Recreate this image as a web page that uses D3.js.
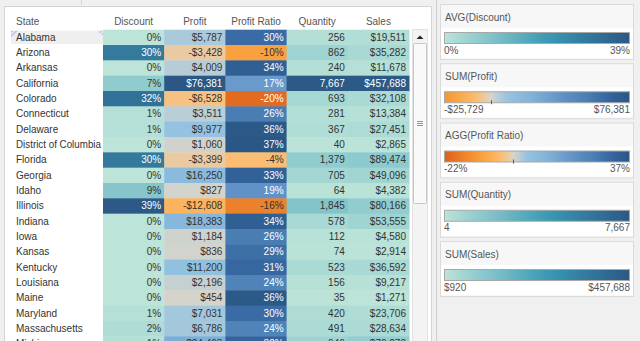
<!DOCTYPE html>
<html><head><meta charset="utf-8">
<script src="https://cdn.jsdelivr.net/npm/d3@7"></script>
<style>
html,body{margin:0;padding:0;background:#f0f0f0;overflow:hidden;}
svg{display:block;font-family:"Liberation Sans",Arial,sans-serif;}
</style></head>
<body>
<svg id="c" width="640" height="341"></svg>
<script>
// ---- data ----
const states = ["Alabama","Arizona","Arkansas","California","Colorado","Connecticut","Delaware","District of Columbia","Florida","Georgia","Idaho","Illinois","Indiana","Iowa","Kansas","Kentucky","Louisiana","Maine","Maryland","Massachusetts","Michigan"];
const discount = [0,0.30,0,0.07,0.32,0.01,0.01,0,0.30,0,0.09,0.39,0,0,0,0,0,0,0.01,0.02,0.01];
const profit = [5787,-3428,4009,76381,-6528,3511,9977,1060,-3399,16250,827,-12608,18383,1184,836,11200,2196,454,7031,6786,24463];
const profitRatio = [0.30,-0.10,0.34,0.17,-0.20,0.26,0.36,0.37,-0.04,0.33,0.19,-0.16,0.34,0.26,0.29,0.31,0.24,0.36,0.30,0.24,0.32];
const quantity = [256,862,240,7667,693,281,367,40,1379,705,64,1845,578,112,74,523,156,35,420,491,946];
const sales = [19511,35282,11678,457688,32108,13384,27451,2865,89474,49096,4382,80166,53555,4580,2914,36592,9217,1271,23706,28634,76270];
const columns = ["Discount","Profit","Profit Ratio","Quantity","Sales"];
const discountRange = [0, 0.39];
const profitRange = [-25729, 76381];
const ratioRange = [-0.22, 0.37];
const quantityRange = [4, 7667];
const salesRange = [920, 457688];
const legendTitles = ["AVG(Discount)","SUM(Profit)","AGG(Profit Ratio)","SUM(Quantity)","SUM(Sales)"];

// ---- colour schemes ----
const blueTeal = ["#bce4d8","#aedcd5","#a1d5d2","#95cecf","#89c8cc","#7ec1ca","#72bac6","#66b2c2","#59acbe","#4ba5ba","#419eb6","#3b96b2","#358ead","#3586a7","#347ea1","#32779b","#316f96","#2f6790","#2d608a","#2c5985"];
const seqInterp = d3.interpolateRgbBasis(blueTeal);
const divT = [-1,-0.6,-0.3,-0.12,-0.05,0,0.05,0.12,0.3,0.5,0.7,0.85,1];
const divC = ["#9e3d22","#dd5f1a","#f89c38","#fdbb6a","#ecc99d","#d9d5c9","#b7cdd8","#95c3e0","#80b1d8","#6394c8","#4a7db2","#3565a0","#2a5783"];
const divInterp = d3.scaleLinear().domain(divT).range(divC).interpolate(d3.interpolateRgb).clamp(true);

function seqScale(ext){ const s=d3.scaleLinear().domain(ext).range([0,1]).clamp(true); return v=>seqInterp(s(v)); }
function divScale(ext){ const m=d3.max(ext.map(Math.abs)); const s=d3.scaleLinear().domain([-m,m]).range([-1,1]).clamp(true); return v=>divInterp(s(v)); }

const colorDiscount = seqScale(discountRange);
const colorProfit = divScale(profitRange);
const colorRatio = divScale(ratioRange);
const colorQty = seqScale(quantityRange);
const colorSales = seqScale(salesRange);

const fmtPct = v => (v<0?"-":"") + Math.round(Math.abs(v)*100) + "%";
const fmtMoney = v => (v<0?"-":"") + "$" + d3.format(",")(Math.round(Math.abs(v)));
const fmtInt = v => d3.format(",")(v);

const colDefs = [
  {vals:discount, color:colorDiscount, fmt:fmtPct},
  {vals:profit, color:colorProfit, fmt:fmtMoney},
  {vals:profitRatio, color:colorRatio, fmt:fmtPct},
  {vals:quantity, color:colorQty, fmt:fmtInt},
  {vals:sales, color:colorSales, fmt:fmtMoney}
];
const legendDefs = [
  {range:discountRange, color:colorDiscount, fmt:fmtPct},
  {range:profitRange, color:colorProfit, fmt:fmtMoney, zero:true},
  {range:ratioRange, color:colorRatio, fmt:fmtPct, zero:true},
  {range:quantityRange, color:colorQty, fmt:fmtInt},
  {range:salesRange, color:colorSales, fmt:fmtMoney}
];

function lum(c){ const r=d3.rgb(c); const f=x=>{x/=255; return x<=0.03928?x/12.92:Math.pow((x+0.055)/1.055,2.4);}; return 0.2126*f(r.r)+0.7152*f(r.g)+0.0722*f(r.b); }

const svg = d3.select("#c");
const defs = svg.append("defs");
const pat = defs.append("pattern").attr("id","hatch").attr("width",3).attr("height",3)
  .attr("patternUnits","userSpaceOnUse").attr("patternTransform","rotate(45)");
pat.append("rect").attr("width",3).attr("height",3).attr("fill","#e4e9f2");
pat.append("line").attr("x1",0).attr("y1",0).attr("x2",0).attr("y2",3).attr("stroke","#7d9ccc").attr("stroke-width",1.2);

// background
svg.append("rect").attr("width",640).attr("height",341).attr("fill","#f0f0f0");
svg.append("line").attr("x1",81.5).attr("x2",81.5).attr("y1",0).attr("y2",5).attr("stroke","#d6d6d6");

// main panel
svg.append("rect").attr("x",4.5).attr("y",6.5).attr("width",427).attr("height",340).attr("fill","#fff").attr("stroke","#d4d4d4");

const x = d3.scaleBand().domain(columns).range([103,409]);
const y = d3.scaleBand().domain(states).range([29.7, 29.7 + states.length*15.33]);

// header
const hdr = svg.append("g").attr("font-size",10).attr("fill","#555");
hdr.append("text").attr("x",16).attr("y",25).text("State");
columns.forEach(c=>{
  hdr.append("text").attr("x",x(c)+x.bandwidth()/2).attr("y",25).attr("text-anchor","middle").text(c);
});

// selected cell (Alabama)
svg.append("rect").attr("x",11).attr("y",y(states[0])+1).attr("width",92).attr("height",y.bandwidth()-2).attr("fill","#efefef");
svg.append("path").attr("d",`M11,${y(states[0])+1}h8l-8,8z`).attr("fill","url(#hatch)");
svg.append("path").attr("d",`M103,${y(states[0])+1}h-6l6,5z`).attr("fill","url(#hatch)");

// state labels
svg.append("g").attr("font-size",10).attr("fill","#333")
  .selectAll("text").data(states).join("text")
  .attr("x",16).attr("y",d=>y(d)+11).text(d=>d)
  .each(function(){ const w=this.getComputedTextLength(); if(w>85){ d3.select(this).attr("textLength",85).attr("lengthAdjust","spacingAndGlyphs"); } });

// cells
colDefs.forEach((cd,ci)=>{
  const col = columns[ci];
  const g = svg.append("g");
  g.selectAll("rect").data(states).join("rect")
    .attr("x",x(col)).attr("y",d=>y(d)).attr("width",x.bandwidth()+0.5).attr("height",y.bandwidth()+0.5)
    .attr("fill",(d,i)=>cd.color(cd.vals[i]));
  g.selectAll("text").data(states).join("text")
    .attr("x",x(col)+x.bandwidth()-3).attr("y",d=>y(d)+11).attr("text-anchor","end").attr("font-size",10)
    .attr("fill",(d,i)=>lum(cd.color(cd.vals[i]))<0.31?"#ffffff":"#333333")
    .text((d,i)=>cd.fmt(cd.vals[i]));
});

// scrollbar
const sb = svg.append("g");
sb.append("rect").attr("x",412.5).attr("y",29.5).attr("width",15).attr("height",320).attr("fill","#f3f3f3").attr("stroke","#e2e2e2");
sb.append("path").attr("d","M416.5,39 L420,35.5 L423.5,39 Z").attr("fill","#222");
sb.append("rect").attr("x",413.5).attr("y",43.5).attr("width",13).attr("height",160).attr("rx",1).attr("fill","#f9f9f9").attr("stroke","#c6c6c6");
[-2,0,2].forEach(o=>sb.append("line").attr("x1",417).attr("x2",423).attr("y1",123.5+o).attr("y2",123.5+o).attr("stroke","#777").attr("stroke-width",0.8));

// legend panel
svg.append("line").attr("x1",436.5).attr("x2",436.5).attr("y1",0).attr("y2",341).attr("stroke","#d0d0d0");
const lx0 = 444, lx1 = 630;
legendDefs.forEach((ld,i)=>{
  const bt = 32 + i*59.25;
  const g = svg.append("g");
  g.append("rect").attr("x",440.5).attr("y",bt-28+0.5).attr("width",193).attr("height",55).attr("fill","#f7f7f7").attr("stroke","#dadada");
  g.append("rect").attr("x",441).attr("y",bt-4).attr("width",192).attr("height",30).attr("fill","#ffffff");
  g.append("text").attr("x",445).attr("y",bt-11.5).attr("font-size",10).attr("fill","#555").text(legendTitles[i]);
  const gid = "lg"+i;
  const lg = defs.append("linearGradient").attr("id",gid).attr("x1","0%").attr("x2","100%");
  const steps = 40;
  d3.range(steps+1).forEach(k=>{
    const v = ld.range[0] + (ld.range[1]-ld.range[0])*k/steps;
    lg.append("stop").attr("offset",(k/steps*100)+"%").attr("stop-color",ld.color(v));
  });
  const ls = d3.scaleLinear().domain(ld.range).range([lx0,lx1]);
  g.append("rect").attr("x",lx0+0.5).attr("y",bt+0.5).attr("width",lx1-lx0-1).attr("height",11).attr("fill",`url(#${gid})`).attr("stroke","#a8a8a8");
  if(ld.zero){
    g.append("line").attr("x1",Math.round(ls(0))+0.5).attr("x2",Math.round(ls(0))+0.5).attr("y1",bt+9).attr("y2",bt+13).attr("stroke","#555");
  }
  g.append("text").attr("x",lx0).attr("y",bt+21.5).attr("font-size",10).attr("fill","#555").text(ld.fmt(ld.range[0]));
  g.append("text").attr("x",lx1).attr("y",bt+21.5).attr("font-size",10).attr("fill","#555").attr("text-anchor","end").text(ld.fmt(ld.range[1]));
});
</script>
</body></html>
